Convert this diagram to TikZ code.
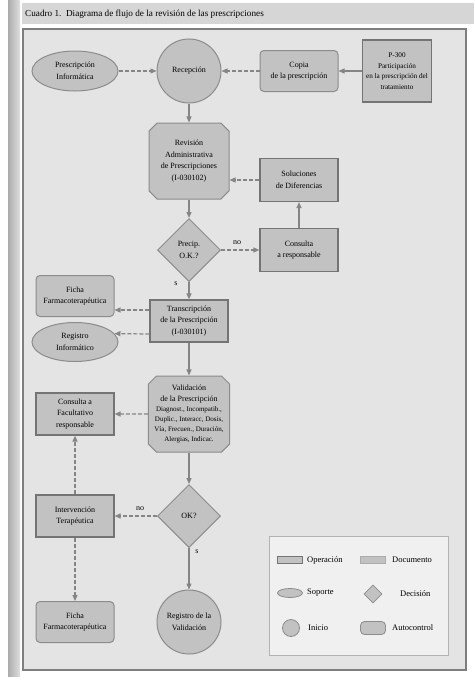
\documentclass[tikz,border=0pt]{standalone}
\usepackage{fontspec}
\setmainfont{Liberation Serif}
\usetikzlibrary{shapes.geometric,shapes.misc,arrows.meta}

\definecolor{fondo}{HTML}{E4E4E4}
\definecolor{banda}{HTML}{D6D6D6}
\definecolor{relleno}{HTML}{C2C2C2}
\definecolor{bordeop}{HTML}{747474}
\definecolor{bordedoc}{HTML}{8C8C8C}
\definecolor{linea}{HTML}{858585}
\definecolor{marco}{HTML}{7E7E7E}

\begin{document}
\begin{tikzpicture}[x=1pt,y=-1pt,
  every node/.style={font=\fontsize{8}{11.5}\selectfont,align=center,inner sep=1pt},
  operacion/.style={draw=bordeop,fill=relleno,line width=1.2pt,minimum width=78pt,minimum height=42pt},
  documento/.style={draw=bordedoc,fill=relleno,line width=1pt,rounded corners=4pt,minimum width=78pt,minimum height=41pt},
  soporte/.style={ellipse,draw=bordedoc,fill=relleno,line width=1pt,minimum width=86pt,minimum height=40pt},
  inicio/.style={circle,draw=bordedoc,fill=relleno,line width=1pt,minimum size=64pt,inner sep=0pt},
  decision/.style={diamond,draw=bordedoc,fill=relleno,line width=1pt,minimum width=63pt,minimum height=63pt,inner sep=0pt},
  control/.style={chamfered rectangle,chamfered rectangle xsep=5pt,draw=bordedoc,fill=relleno,line width=1pt,minimum width=80pt,minimum height=76pt},
  flecha/.style={draw=linea,line width=1.2pt,-{Triangle[length=6pt,width=5pt]}},
  flechad/.style={flecha,dash pattern=on 4pt off 2pt},
  etiqueta/.style={font=\fontsize{8}{9}\selectfont},
  leyenda/.style={anchor=west,font=\fontsize{8.5}{10}\selectfont}
]
\useasboundingbox (0,0) rectangle (474,680);

% franja lateral, banda del titulo y marco
\shade[left color=gray!65,right color=gray!25] (8,0) rectangle (20,676);
\fill[banda] (22,3) rectangle (474,24);
\node[anchor=west,font=\fontsize{9.2}{10}\selectfont] (titulo) at (24,14)
  {Cuadro 1.\enspace Diagrama de flujo de la revisión de las prescripciones};
\draw[marco,line width=2.5pt,fill=fondo] (23,29) rectangle (466,670);

% primera fila
\node[soporte] (pinf) at (75,71) {Prescripción\\Informática};
\node[inicio] (recep) at (189,71) {Recepción};
\node[documento] (copia) at (299,71) {Copia\\de la prescripción};
\node[operacion,minimum width=69pt,minimum height=62pt,font=\fontsize{7.2}{10.5}\selectfont] (p300) at (397,71)
  {P-300\\Participación\\en la prescripción del\\tratamiento};

% revision administrativa
\node[control] (revision) at (189,161) {Revisión\\Administrativa\\de Prescripciones\\(I-030102)};
\node[operacion,minimum height=43pt] (soluc) at (299,180) {Soluciones\\de Diferencias};
\node[decision] (precip) at (189,250) {Precip.\\O.K.?};
\node[operacion,minimum height=43pt] (consresp) at (299,250) {Consulta\\a responsable};

% transcripcion
\node[documento] (ficha1) at (75,296) {Ficha\\Farmacoterapéutica};
\node[operacion] (transc) at (189,321) {Transcripción\\de la Prescripción\\(I-030101)};
\node[soporte,minimum height=39pt] (reginf) at (75,342) {Registro\\Informático};

% validacion
\node[control,minimum width=81pt] (valid) at (189,414)
  {Validación\\de la Prescripción\\[-1.5pt]{\fontsize{7}{10}\selectfont Diagnost., Incompatib.,}\\[-1.5pt]
   {\fontsize{7}{10}\selectfont Duplic., Interacc, Dosis,}\\[-1.5pt]
   {\fontsize{7}{10}\selectfont Vía, Frecuen., Duración,}\\[-1.5pt]
   {\fontsize{7}{10}\selectfont Alergias, Indicac.}};
\node[operacion] (consfac) at (75,414) {Consulta a\\Facultativo\\responsable};
\node[decision] (okval) at (189,516) {OK?};
\node[operacion] (interv) at (75,516) {Intervención\\Terapéutica};
\node[documento] (ficha2) at (75,622) {Ficha\\Farmacoterapéutica};
\node[inicio] (regval) at (189,622) {Registro de la\\Validación};

% conectores
\draw[flechad] (pinf) -- (recep);
\draw[flechad] (copia) -- (recep);
\draw[flecha] (p300) -- (copia);
\draw[flecha] (recep) -- (revision);
\draw[flechad] (soluc.west) -- (soluc.west -| revision.east);
\draw[flecha] (revision) -- (precip);
\draw[flechad] (precip) -- (consresp);
\draw[flecha] (consresp) -- (soluc);
\draw[flecha] (precip) -- (transc);
\draw[flechad] ([yshift=11pt]transc.west) -- ([yshift=11pt]transc.west -| ficha1.east);
\draw[flechad] ([yshift=-13pt]transc.west) -- (reginf.12);
\draw[flecha] (transc) -- (valid);
\draw[flechad] (valid) -- (consfac);
\draw[flecha] (valid) -- (okval);
\draw[flechad] (okval) -- (interv);
\draw[flechad] (interv) -- (consfac);
\draw[flechad] (interv) -- (ficha2);
\draw[flecha] (okval) -- (regval);

% etiquetas
\node[etiqueta] (no1) at (237,243) {no};
\node[etiqueta] (si1) at (176,284) {s};
\node[etiqueta] (no2) at (140,509) {no};
\node[etiqueta] (si2) at (197,552) {s};

% leyenda
\draw[draw=gray!60,fill=gray!12,line width=0.6pt] (269,536) rectangle (448,655);
\node[operacion,minimum width=25pt,minimum height=7pt,line width=0.8pt] (lop) at (290,560) {};
\node[leyenda] (top) at (306,560) {Operación};
\node[draw=gray!65,fill=relleno,line width=0.8pt,minimum width=25pt,minimum height=7pt] (ldoc) at (373,560) {};
\node[leyenda] (tdoc) at (391,560) {Documento};
\node[soporte,minimum width=25pt,minimum height=9pt,line width=0.8pt] (lsop) at (290,593) {};
\node[leyenda] (tsop) at (306,593) {Soporte};
\node[decision,minimum width=18pt,minimum height=18pt,line width=0.8pt] (ldec) at (373,594) {};
\node[leyenda] (tdec) at (399,594) {Decisión};
\node[inicio,minimum size=17pt,line width=0.8pt] (lini) at (291,628) {};
\node[leyenda] (tini) at (307,628) {Inicio};
\node[documento,minimum width=25pt,minimum height=13pt,line width=0.8pt] (laut) at (373,628) {};
\node[leyenda] (taut) at (391,628) {Autocontrol};
\end{tikzpicture}
\end{document}
